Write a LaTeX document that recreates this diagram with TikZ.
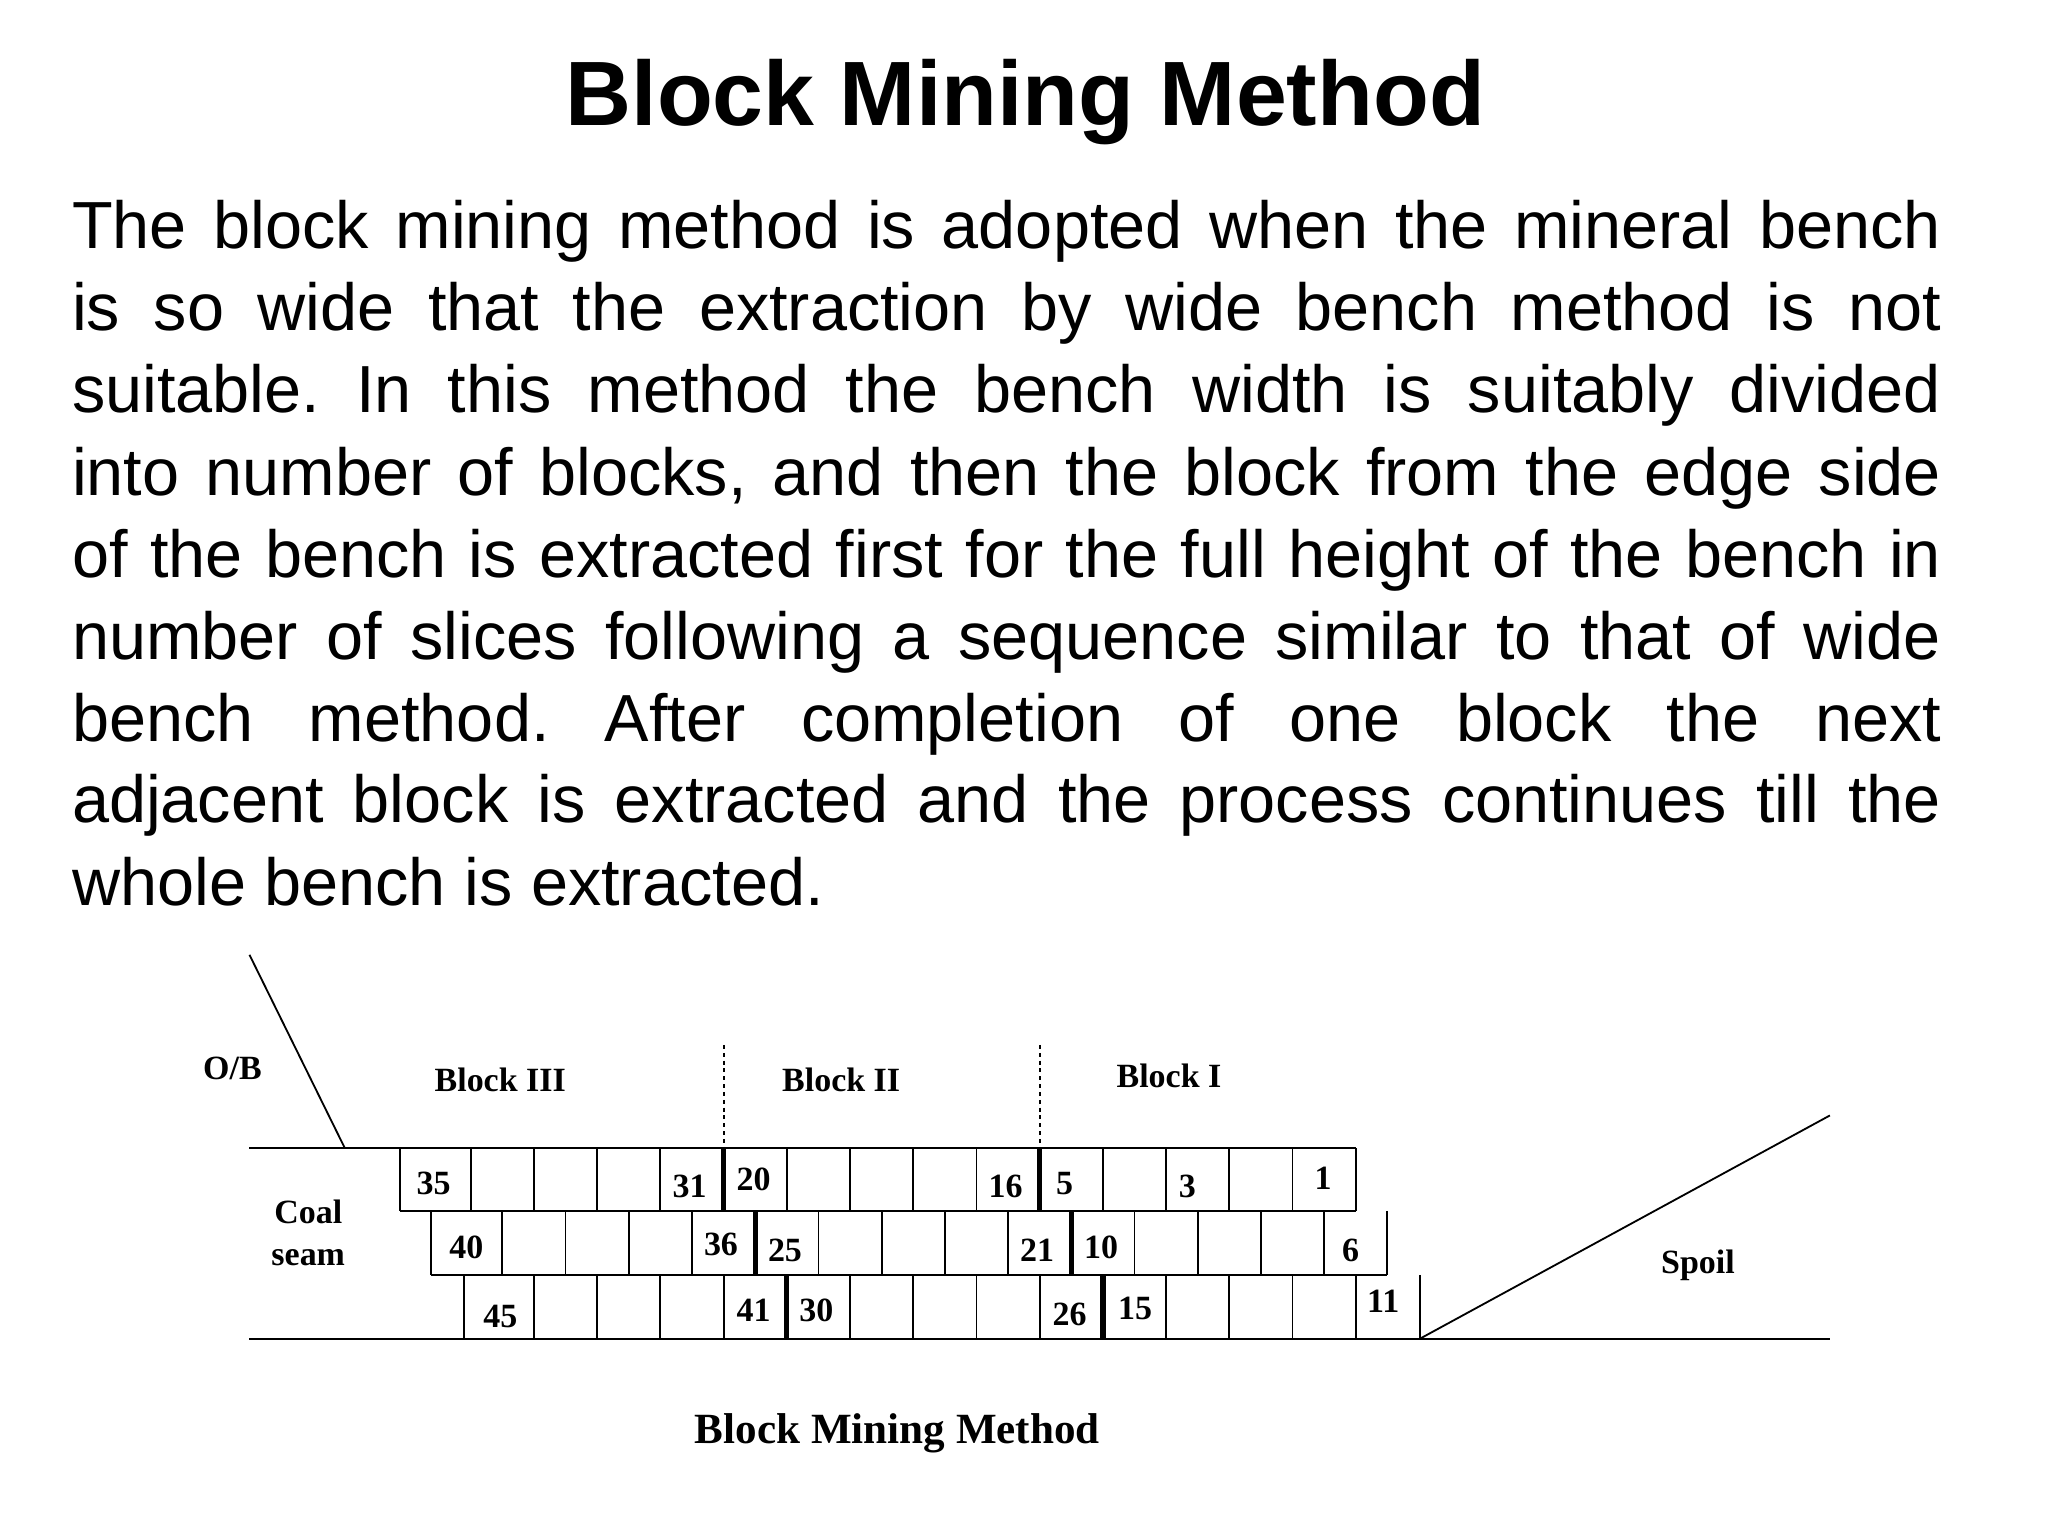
\documentclass[tikz,border=0pt]{standalone}
\usepackage{fontspec}
\setmainfont{Liberation Serif}
\newfontfamily\arial{Liberation Sans}
\frenchspacing
\begin{document}
\begin{tikzpicture}[x=1pt,y=-1pt,
  lab/.style={font=\bfseries\fontsize{26}{28}\selectfont,inner sep=0pt},
  thin/.style={line width=1.4pt},
  thick/.style={line width=4pt},
  pline/.style={anchor=base west,inner sep=0pt,font=\arial\fontsize{51}{62}\selectfont}]
\useasboundingbox (0,0) rectangle (1568,1176);
\node[font=\arial\bfseries\fontsize{70}{74}\selectfont,anchor=base,inner sep=0pt] (title) at (785,96) {Block Mining Method};
\def\pl#1#2#3{\node[pline] (#1) at (55,#2) {\hbox to 1431pt{#3}};}
\pl{l1}{190}{The block mining method is adopted when the mineral bench}
\pl{l2}{253}{is so wide that the extraction by wide bench method is not}
\pl{l3}{316}{suitable. In this method the bench width is suitably divided}
\pl{l4}{379}{into number of blocks, and then the block from the edge side}
\pl{l5}{442}{of the bench is extracted first for the full height of the bench in}
\pl{l6}{505}{number of slices following a sequence similar to that of wide}
\pl{l7}{568}{bench method. After completion of one block the next}
\pl{l8}{630}{adjacent block is extracted and the process continues till the}
\node[pline] (l9) at (55,693) {whole bench is extracted.};
% diagram
\def\w{48.4}
\coordinate (g0) at (191,879);
\coordinate (g1) at (306,879);
\coordinate (b0) at (191,1025);
\coordinate (b1) at (1401,1025);
\draw[thin] (g0) -- (g1) -- (1038,879);
\draw[thin] (b0) -- (b1);
\foreach \r/\ya/\yb/\xl/\xr in {0/879/927/306/1038, 1/927/976/330/1062, 2/976/1025/355/1087}{
  \draw[thin] (\xl,\yb) -- (\xr,\yb);
  \draw[thin] (\xl,\ya) -- (\xl,\yb);
  \draw[thin] (\xr,\ya) -- (\xr,\yb);
  \foreach \k in {1,...,14}{
    \pgfmathsetmacro\xx{554+24.2*\r+(\k-5)*\w}
    \ifnum\k=5 \draw[thick] (\xx,\ya) -- (\xx,\yb);
    \else\ifnum\k=10 \draw[thick] (\xx,\ya) -- (\xx,\yb);
    \else \draw[thin] (\xx,\ya) -- (\xx,\yb); \fi\fi
  }
}
\draw[thin,dashed] (554,800) -- (554,879);
\draw[thin,dashed] (796,800) -- (796,879);
\coordinate (ob0) at (191,731);
\coordinate (ob1) at (264,879);
\draw[thin] (ob0) -- (ob1);
\coordinate (sp0) at (1087,1025);
\coordinate (sp1) at (1401,854);
\draw[thin] (sp0) -- (sp1);
\foreach \n/\x/\y in {35/332/906,31/528/908,20/577/903,16/770/908,5/815/906,3/909/908,1/1013/902,
  40/357/955,36/552/953,25/601/957,21/794/957,10/843/955,6/1034/957,
  45/383/1008,41/577/1003,30/625/1003,26/819/1006,15/869/1002,11/1059/996}
  \node[lab] (n\n) at (\x,\y) {\n};
\node[lab] (ob) at (178,818) {O/B};
\node[lab] (b3) at (383,827) {Block III};
\node[lab] (b2) at (644,827) {Block II};
\node[lab] (b1l) at (895,824) {Block I};
\node[lab,align=center,font=\bfseries\fontsize{26}{32}\selectfont] (coal) at (236,944) {Coal\\seam};
\node[lab] (spoil) at (1300,969) {Spoil};
\node[lab,font=\bfseries\fontsize{33}{36}\selectfont] (cap) at (687,1097) {Block Mining Method};
\end{tikzpicture}
\end{document}
